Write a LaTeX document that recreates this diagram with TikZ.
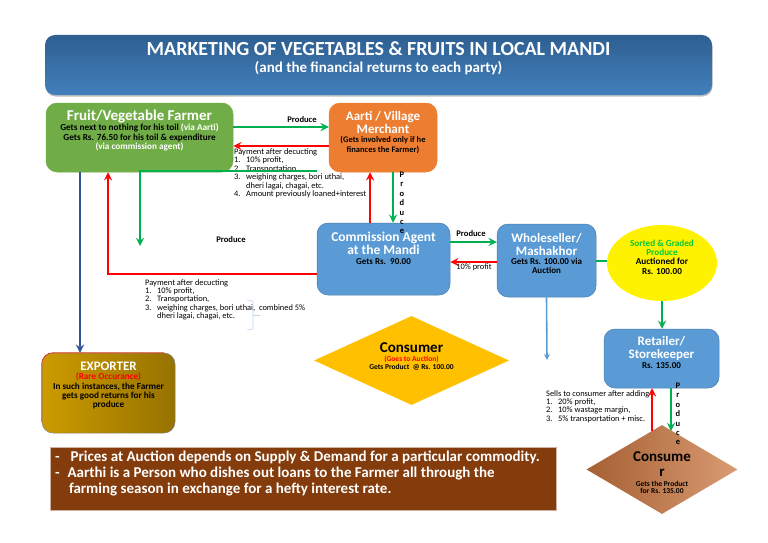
\documentclass[tikz,border=0pt]{standalone}
\usepackage{fontspec}
\setmainfont{Carlito}
\usetikzlibrary{arrows,shapes,positioning,shadows}
\definecolor{mgreen}{RGB}{112,173,71}
\definecolor{morange}{RGB}{237,125,49}
\definecolor{mblue}{RGB}{91,155,213}
\definecolor{titletop}{RGB}{46,95,145}
\definecolor{titlebottom}{RGB}{66,128,188}
\definecolor{arrgreen}{RGB}{0,176,80}
\definecolor{arrblue}{RGB}{47,85,151}
\definecolor{notebrown}{RGB}{132,60,12}
\definecolor{mgold}{RGB}{255,192,0}
\definecolor{golddark}{RGB}{150,114,0}
\definecolor{goldlight}{RGB}{204,155,0}
\definecolor{clayleft}{RGB}{165,95,50}
\definecolor{clayright}{RGB}{218,155,115}
\newcommand{\fs}[2]{\fontsize{#1}{#2}\selectfont}
\newcommand{\boxtext}[4]{\parbox[c][#2pt][t]{#1pt}{\centering\vspace*{#3pt}#4}}
\newcommand{\itm}[1]{\makebox[12pt][l]{#1}}
\let\brk\par
\tikzstyle{box} = [rounded corners=11pt,inner sep=0pt,draw=mblue!80!black,line width=0.5pt,font=\bfseries]
\tikzstyle{arrow} = [line width=2.6pt,->,>=stealth]
\tikzstyle{note} = [anchor=north west,inner sep=0pt,align=left,font=\fs{8.4}{8.45}]
\tikzstyle{tag} = [inner sep=0pt,font=\bfseries\fs{8.6}{9}]
\tikzstyle{letters} = [inner sep=0pt,align=center,font=\bfseries\fs{8.5}{9.4}]
\tikzstyle{inside} = [inner sep=0pt,font=\bfseries]
\begin{document}
\begin{tikzpicture}[x=1pt,y=-1pt]
\useasboundingbox (0,0) rectangle (768,543);

% Title
\node[box,top color=titletop,bottom color=titlebottom,draw=none,rounded corners=10pt,
  drop shadow={shadow xshift=0.5pt,shadow yshift=-1.5pt,opacity=0.5}] (title) at (378.5,65)
  {\boxtext{667}{60}{7}{\color{white}{\fs{20}{20}MARKETING OF VEGETABLES \& FRUITS IN LOCAL MANDI\par}{\fs{15}{17}(and the financial returns to each party)\par}}};

% Notes under the boxes
\node[note] (paymentone) at (234,148.5) {Payment after decucting\\
\itm{1.}10\% profit,\\
\itm{2.}Transportation\\
\itm{3.}weighing charges, bori uthai,\\
\hspace*{12pt}dheri lagai, chagai, etc.\\
\itm{4.}Amount previously loaned+interest};
\node[note] (paymenttwo) at (145,279) {Payment after decucting\\
\itm{1.}10\% profit,\\
\itm{2.}Transportation,\\
\itm{3.}weighing charges, bori uthai,\ \ combined 5\%\\
\hspace*{12pt}dheri lagai, chagai, etc.};
\node[note] (paymentthree) at (546,390) {Sells to consumer after adding\\
\itm{1.}20\% profit,\\
\itm{2.}10\% wastage margin,\\
\itm{3.}5\% transportation + misc.};
\draw[mblue!40,line width=0.6pt] (247,300) -- (253,301) -- (253,329) -- (247,330);
\draw[mblue!40,line width=0.6pt] (253,315) -- (260,315);

% Parties
\node[box,fill=mgreen,draw=mgreen] (farmer) at (139.5,137.5)
  {\boxtext{187}{69}{7}{{\fs{15}{18}\color{white}Fruit/Vegetable Farmer\par}{\fs{9.2}{9.3}Gets next to nothing for his toil \textcolor{white}{(via Aarti)}\par Gets Rs. 76.50 for his toil \& expenditure\par\textcolor{white}{(via commission agent)}\par}}};
\node[box,fill=morange,draw=morange] (merchant) at (383,137.5)
  {\boxtext{108}{69}{8}{{\fs{13}{13.5}\color{white}Aarti / Village\par Merchant\par}{\fs{8.5}{9.3}(Gets involved only if he\par finances the Farmer)\par}}};
\node[box,fill=mblue] (commission) at (383.5,259)
  {\boxtext{133}{72}{9}{{\fs{13.5}{13.5}\color{white}Commission Agent\par at the Mandi\par}{\fs{9}{10}Gets Rs.\ \ 90.00\par}}};
\node[box,fill=mblue] (wholesaler) at (546.5,260.5)
  {\boxtext{99}{73}{9}{{\fs{13}{13}\color{white}Wholeseller/\par Mashakhor\par}{\fs{9}{9.3}Gets Rs. 100.00 via\par Auction\par}}};
\node[ellipse,fill=yellow,inner sep=0pt,minimum width=110pt,minimum height=76pt,
  label={[inside]center:\boxtext{100}{60}{7}{\fs{9.2}{9.2}{\color{arrgreen!70!green}Sorted \& Graded\brk Produce\brk}Auctioned for\brk Rs. 100.00\brk}}] (auction) at (662,263) {};
\node[box,fill=mblue] (retailer) at (661.5,358.5)
  {\boxtext{115}{59}{7}{{\fs{13}{13}\color{white}Retailer/\par Storekeeper\par}{\fs{9}{10}Rs. 135.00\par}}};
\node[box,left color=goldlight,right color=golddark,draw=gray] (exporter) at (108.5,393)
  {\boxtext{133}{80}{9}{{\fs{13}{13}\color{white}EXPORTER\par}{\fs{9.2}{9.3}\textcolor{red}{(Rare Occurance)}\par In such instances, the Farmer\par gets good returns for his\par produce\par}}};
\draw[red!60!brown,line width=0.7pt,rounded corners=11pt] ([yshift=11pt]exporter.south west) -- (exporter.north west) -- ([xshift=-11pt]exporter.north east);

\node[diamond,aspect=2.2,fill=mgold,inner sep=0pt,minimum width=195pt,minimum height=89pt,
  label={[inside]center:\boxtext{120}{50}{7}{{\fs{15}{15}Consumer\brk}{\fs{7.5}{8.8}\textcolor{red}{(Goes to Auction)}\brk Gets Product\ \ @ Rs. 100.00\brk}}}] (auctionbuyer) at (411.5,360.5) {};
\node[diamond,aspect=1.7,left color=clayleft,right color=clayright,inner sep=0pt,minimum width=151pt,minimum height=89pt,
  label={[inside]center:\boxtext{70}{60}{12}{{\fs{15}{15.5}Consume\brk r\brk}\vspace{2pt}{\fs{7.5}{7.5}Gets the Product\brk for Rs. 135.00\brk}}}] (shopbuyer) at (662,469.5) {};

% Bottom remarks
\node[fill=notebrown,draw=notebrown!40!white,line width=0.5pt,inner sep=0pt,font=\bfseries] (remarks) at (303,478.5)
  {\parbox[c][63pt][t]{506pt}{\vspace*{4pt}\color{white}\fs{15}{16}\hspace*{5pt}-\hspace*{11pt}Prices at Auction depends on Supply \& Demand for a particular commodity.\par
  \hspace*{5pt}-\hspace*{8pt}Aarthi is a Person who dishes out loans to the Farmer all through the\par
  \hspace*{19pt}farming season in exchange for a hefty interest rate.\par}};

% Farmer and merchant
\draw[arrow,arrgreen] ([yshift=10.5pt]farmer.east) -- ([yshift=10.5pt]merchant.west);
\draw[arrow,red] ([yshift=-8.5pt]merchant.west) -- ([yshift=-8.5pt]farmer.east);
\node[tag] (produceone) at (302,120) {Produce};

% Farmer and commission agent
\coordinate (greenstart) at (317,171);
\coordinate (greenbend) at (140,171);
\coordinate (greenend) at (140,246);
\draw[arrow,arrgreen] (greenstart) -- (greenbend) -- (greenend);
\node[tag] (producetwo) at (231,240) {Produce};
\coordinate (redbend) at (108,274);
\draw[arrow,red] ([yshift=-15pt]commission.west) -- (redbend) -- (redbend |- farmer.south);

% Exporter
\draw[arrow,arrblue] ([xshift=-59.5pt]farmer.south) -- ([xshift=-28.5pt]exporter.north);

% Merchant and commission agent
\draw[arrow,red] ([xshift=-13.5pt]commission.north) -- ([xshift=-13pt]merchant.south);
\draw[arrow,arrgreen] ([xshift=10pt]merchant.south) -- ([xshift=9.5pt]commission.north);
\node[letters] (producethree) at (402,203) {P\\r\\o\\d\\u\\c\\e};

% Commission agent and wholesaler
\draw[arrow,arrgreen] ([yshift=17pt]commission.east) -- ([yshift=18.5pt]wholesaler.west);
\draw[arrow,red] ([yshift=-1.5pt]wholesaler.west) -- ([yshift=-3pt]commission.east);
\node[tag] (producefour) at (471,234) {Produce};
\node[tag,font=\fs{8.4}{9}] (profit) at (474,267) {10\% profit};

% Wholesaler onwards
\draw[line width=2pt,arrgreen] (wholesaler.east) -- (auction.west |- wholesaler.east);
\coordinate (wholesaleend) at (547,360);
\draw[line width=1.6pt,->,>=stealth,mblue] (wholesaler.south) -- (wholesaleend);
\draw[arrow,arrgreen] (auction.south) -- (auction.south |- retailer.north);

% Retailer and consumer
\coordinate (redstart) at (652,431);
\coordinate (greenstop) at (671,431);
\draw[arrow,red] (redstart) -- (redstart |- retailer.south);
\draw[arrow,arrgreen] (greenstop |- retailer.south) -- (greenstop);
\node[letters] (producefive) at (678,414) {P\\r\\o\\d\\u\\c\\e};
\end{tikzpicture}
\end{document}
